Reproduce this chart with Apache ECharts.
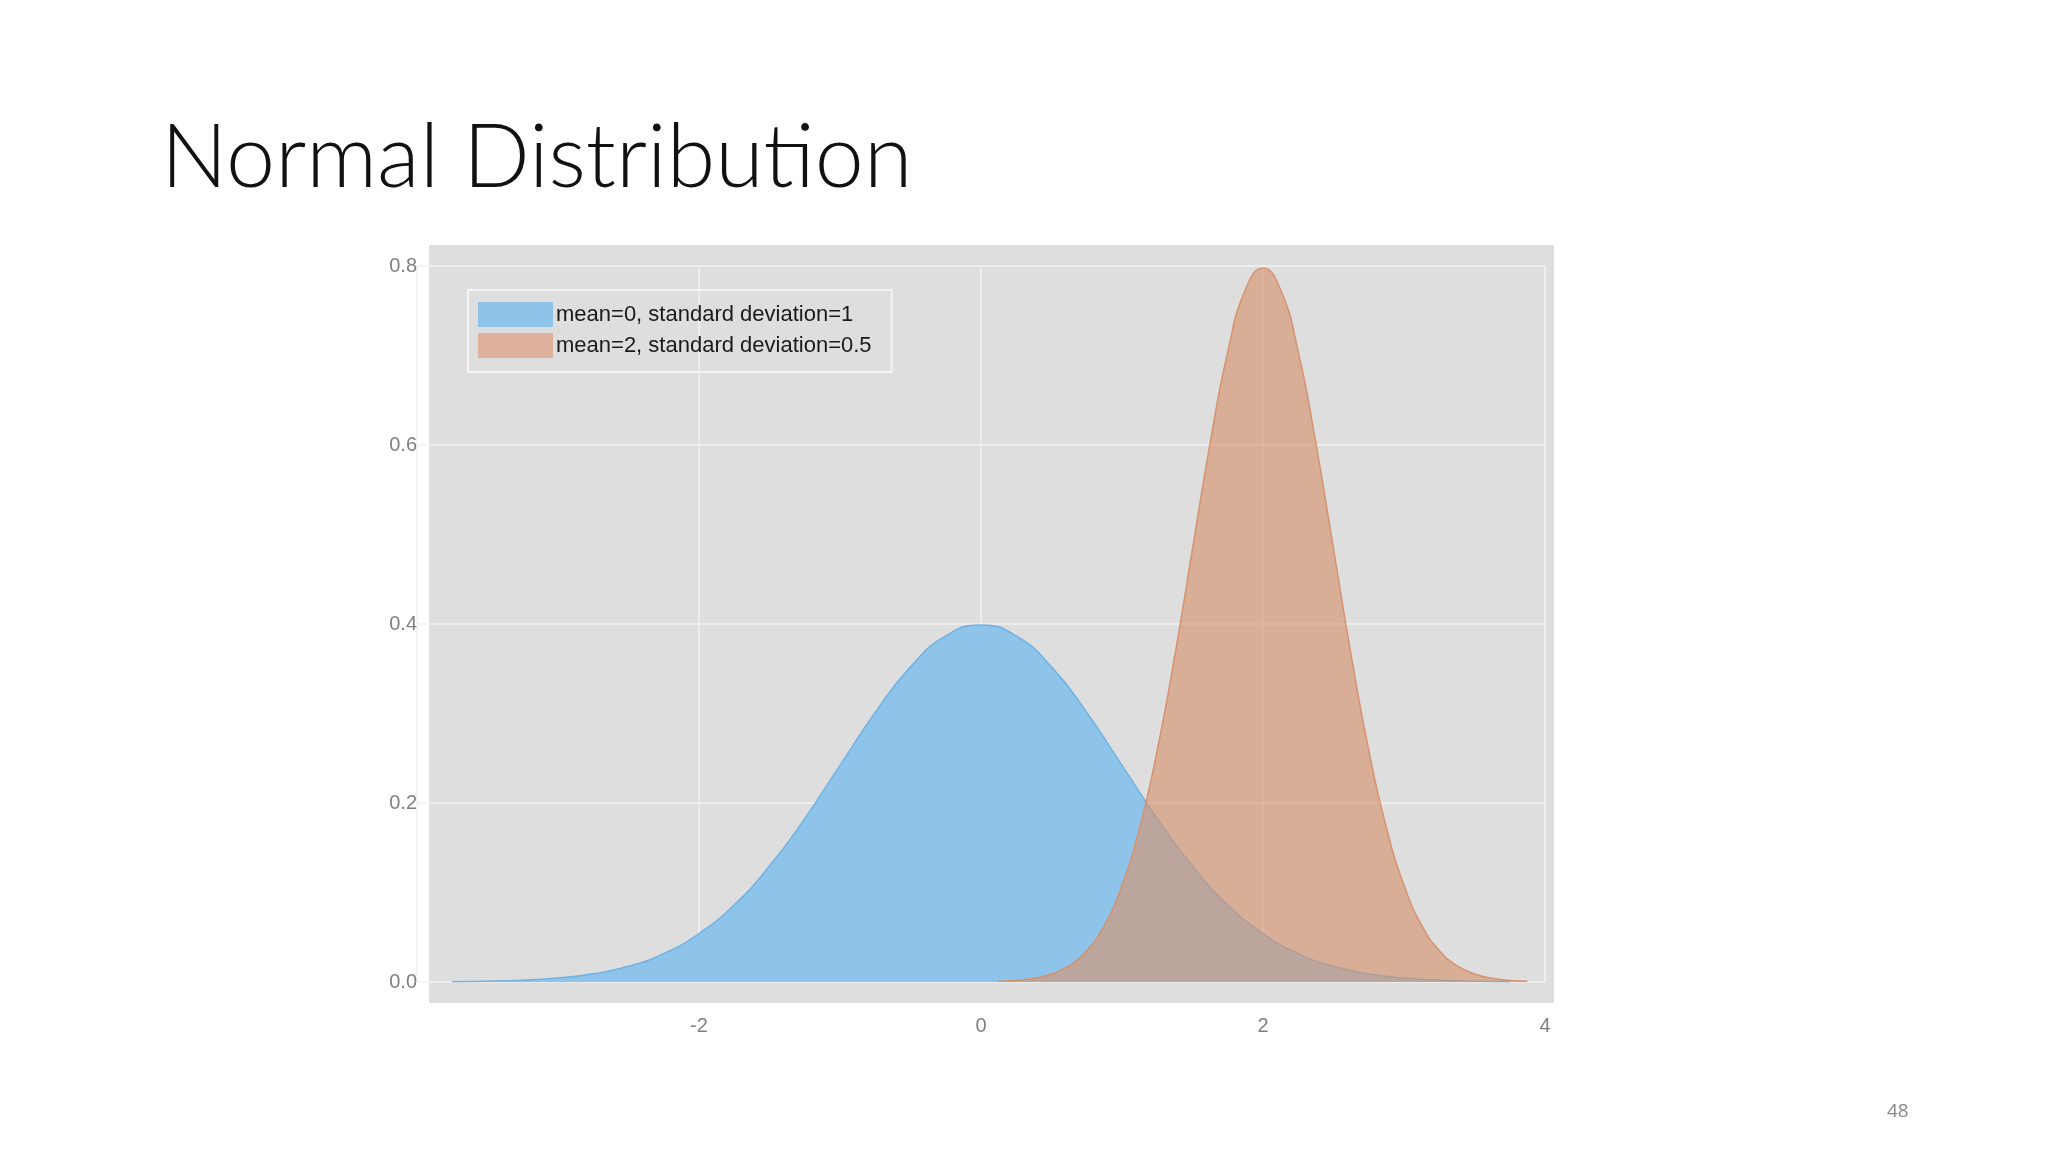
<!DOCTYPE html>
<html><head><meta charset="utf-8">
<script src="https://cdn.jsdelivr.net/npm/echarts@6/dist/echarts.min.js"></script>
<style>html,body{margin:0;background:#fff}#c{width:2048px;height:1152px}</style>
</head><body><div id="c"></div>
<script>
const seriesNames = ['mean=0, standard deviation=1', 'mean=2, standard deviation=0.5'];
const blueX = [-3.75,-3.5,-3.25,-3,-2.75,-2.5,-2.25,-2,-1.75,-1.5,-1.25,-1,-0.75,-0.5,-0.25,0,0.25,0.5,0.75,1,1.25,1.5,1.75,2,2.25,2.5,2.75,3,3.25,3.5,3.75];
const blueY = [0.0004,0.0009,0.0020,0.0044,0.0091,0.0175,0.0317,0.0540,0.0863,0.1295,0.1826,0.2420,0.3011,0.3521,0.3867,0.3989,0.3867,0.3521,0.3011,0.2420,0.1826,0.1295,0.0863,0.0540,0.0317,0.0175,0.0091,0.0044,0.0020,0.0009,0.0004];
const orangeX = [0.125,0.25,0.375,0.5,0.625,0.75,0.875,1,1.125,1.25,1.375,1.5,1.625,1.75,1.875,2,2.125,2.25,2.375,2.5,2.625,2.75,2.875,3,3.125,3.25,3.375,3.5,3.625,3.75,3.875];
const orangeY = [0.0007,0.0018,0.0041,0.0089,0.0182,0.0351,0.0635,0.1080,0.1725,0.2590,0.3652,0.4839,0.6022,0.7041,0.7734,0.7979,0.7734,0.7041,0.6022,0.4839,0.3652,0.2590,0.1725,0.1080,0.0635,0.0351,0.0182,0.0089,0.0041,0.0018,0.0007];
const xTicks = [-2, 0, 2, 4];
const yTicks = [0, 0.2, 0.4, 0.6, 0.8];

const chart = echarts.init(document.getElementById('c'));
const lab = {color:'#808080', fontSize:20, fontFamily:'Liberation Sans'};
chart.setOption({
  backgroundColor:'#fff',
  animation:false,
  title:[{text:'Normal Distribution', left:156, top:110, textStyle:{fontFamily:'Lato', fontWeight:300, fontSize:88, color:'#111'}},
         {text:'48', left:1882, top:1097, textStyle:{fontFamily:'Open Sans', fontWeight:400, fontSize:19, color:'#888'}}],
  graphic:[{type:'rect', z:-10, shape:{x:429, y:245, width:1125, height:758}, style:{fill:'#dedede'}}],
  grid:{left:417, right:503, top:266, bottom:170},
  legend:{orient:'vertical', left:468, top:290, width:483, itemWidth:75, itemHeight:25, itemGap:6,
    padding:[12,20,14,10], borderColor:'#f4f4f4', borderWidth:2, icon:'rect',
    textStyle:{fontSize:22, fontFamily:'Liberation Sans', color:'#1a1a1a', padding:[0,0,0,-2]},
    data:[{name:seriesNames[0], itemStyle:{color:'#8ec4ea'}},{name:seriesNames[1], itemStyle:{color:'#ddb19c'}}]},
  xAxis:{type:'value', min:-4, max:4, interval:2,
    axisLine:{show:false}, axisTick:{show:false},
    axisLabel:Object.assign({margin:34, formatter:v=> xTicks.includes(v)? String(v):''}, lab),
    splitLine:{lineStyle:{color:'#f2f2f2', width:1.5}}},
  yAxis:{type:'value', min:0, max:0.8, interval:0.2,
    axisLine:{show:false}, axisTick:{show:false},
    axisLabel:Object.assign({margin:0, formatter:v=>v.toFixed(1)}, lab),
    splitLine:{lineStyle:{color:'#f2f2f2', width:1.5}}},
  series:[
    {name:seriesNames[0], type:'line', smooth:true, symbol:'none', z:2,
     data:blueX.map((x,i)=>[x,blueY[i]]),
     lineStyle:{color:'#6fb2e4', width:1.5}, areaStyle:{color:'#8ec4ea', opacity:1}},
    {name:seriesNames[1], type:'line', smooth:true, symbol:'none', z:3,
     data:orangeX.map((x,i)=>[x,orangeY[i]]),
     lineStyle:{color:'#d4926f', width:1.5}, areaStyle:{color:'rgb(214,146,108)', opacity:0.62}}
  ]
});
</script></body></html>
